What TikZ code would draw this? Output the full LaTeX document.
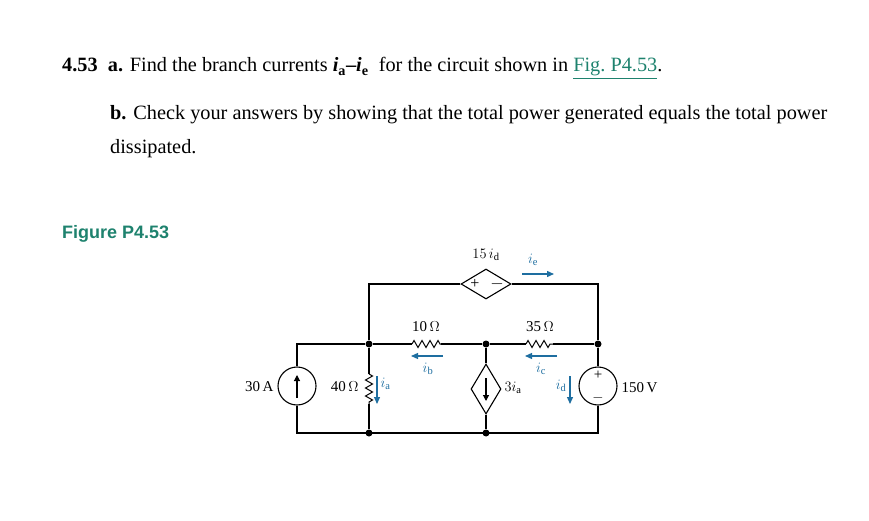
\documentclass[tikz,border=0pt]{standalone}
\usepackage{fontspec}
\setmainfont{Liberation Serif}
\newfontfamily\hdfont{Liberation Sans}
\usetikzlibrary{shapes.geometric,arrows.meta,decorations.pathmorphing}
\definecolor{teal1}{RGB}{30,130,110}
\definecolor{cblue}{RGB}{30,110,160}
\tikzset{
  wire/.style={line width=1.1pt},
  dot/.style={circle,fill,inner sep=0pt,minimum size=7pt},
  src/.style={circle,draw,line width=1.1pt,minimum size=38pt,inner sep=0pt,fill=white},
  dsrc/.style={diamond,draw,line width=1.1pt,inner sep=0pt,fill=white},
  res/.style={line width=1pt,decorate,decoration={zigzag,segment length=8pt,amplitude=3.5pt}},
  carrow/.style={cblue,line width=1.3pt,-{Triangle[length=7pt,width=6pt]}},
  clab/.style={cblue,font=\fontsize{15}{15}\selectfont\itshape},
  lab/.style={font=\fontsize{15}{15}\selectfont},
  txt/.style={anchor=base west,inner sep=0pt,font=\fontsize{20.3}{22}\selectfont}
}
\begin{document}
\begin{tikzpicture}[x=1pt,y=-1pt]
\useasboundingbox (0,0) rectangle (869,521);
\node[txt] (t1) at (62,72) {\textbf{4.53\ \ a.} Find the branch currents \textbf{\textit{i}\textsubscript{a}--\textit{i}\textsubscript{e}}\ \ for the circuit shown in {\color{teal1}\underline{Fig.~P4.53}}.};
\node[txt] (t2) at (110,120) {\textbf{b.} Check your answers by showing that the total power generated equals the total power};
\node[txt] (t3) at (110,154) {dissipated.};
\node[anchor=base west,inner sep=0pt,font=\hdfont\bfseries\fontsize{18}{18}\selectfont,teal1] (fig) at (62,238) {Figure P4.53};
% nodes
\coordinate (TL) at (369,284); \coordinate (TR) at (598,284);
\coordinate (L1) at (297,344); \coordinate (L2) at (297,433);
\node[dot] (n1) at (369,344) {}; \node[dot] (n2) at (486,344) {}; \node[dot] (n3) at (598,344) {};
\node[dot] (b1) at (369,433) {}; \node[dot] (b2) at (486,433) {};
\coordinate (b3) at (598,433);
\node[dsrc,minimum width=50pt,minimum height=30pt] (vd) at (486,284) {};
\node[font=\fontsize{16}{16}\selectfont] (vdp) at (475,284) {+};
\node[font=\fontsize{16}{16}\selectfont] (vdm) at (497,284) {$-$};
\node[src] (s30) at (297,386) {};
\node[dsrc,minimum width=30pt,minimum height=50pt] (cs) at (486,389) {};
\node[src] (s150) at (598,386) {};
\node[font=\fontsize{15}{15}\selectfont] (pp) at (598,375) {+};
\node[font=\fontsize{15}{15}\selectfont] (mm) at (598,398) {$-$};
\coordinate (r40a) at (369,374); \coordinate (r40b) at (369,404);
\coordinate (r10a) at (412,344); \coordinate (r10b) at (441,344);
\coordinate (r35a) at (526,344); \coordinate (r35b) at (553,344);
% wires
\draw[wire] (vd.west) -- (TL) -- (n1) -- (r40a);
\draw[wire] (r40b) -- (b1);
\draw[wire] (vd.east) -- (TR) -- (n3) -- (s150.north);
\draw[wire] (s150.south) -- (b3) -- (L2) -- (s30.south);
\draw[wire] (s30.north) -- (L1) -- (n1) -- (r10a);
\draw[wire] (r10b) -- (n2) -- (r35a);
\draw[wire] (r35b) -- (n3);
\draw[wire] (n2) -- (cs.north); \draw[wire] (cs.south) -- (b2);
\draw[res] (r40a) -- (r40b);
\draw[res] (r10a) -- (r10b);
\draw[res] (r35a) -- (r35b);
\draw[line width=1.1pt,-{Triangle[length=6pt,width=6pt]}] (297,398) -- (297,375);
\draw[line width=1.1pt,-{Triangle[length=6pt,width=6pt]}] (486,378) -- (486,401);
% labels
\node[lab,anchor=east] (l30) at (277,387) {30\,A};
\node[lab,anchor=east] (l40) at (362,387) {40\,$\Omega$};
\node[lab] (l10) at (426,327) {10\,$\Omega$};
\node[lab] (l35) at (540,327) {35\,$\Omega$};
\node[lab,anchor=west] (l3) at (501,388) {$3i_{\mathrm a}$};
\node[lab,anchor=west] (l150) at (618,388) {150\,V};
\node[lab] (l15) at (486,255) {$15\,i_{\mathrm d}$};
% current arrows
\coordinate (ia1) at (377,376); \coordinate (ia2) at (377,404);
\draw[carrow] (ia1) -- (ia2);
\node[clab,anchor=west] (ial) at (377,384) {$i_{\mathrm a}$};
\coordinate (ib1) at (443,356); \coordinate (ib2) at (411,356);
\draw[carrow] (ib1) -- (ib2);
\node[clab] (ibl) at (428,369) {$i_{\mathrm b}$};
\coordinate (ic1) at (557,356); \coordinate (ic2) at (525,356);
\draw[carrow] (ic1) -- (ic2);
\node[clab] (icl) at (541,369) {$i_{\mathrm c}$};
\coordinate (id1) at (570,376); \coordinate (id2) at (570,404);
\draw[carrow] (id1) -- (id2);
\node[clab,anchor=east] (idl) at (570,386) {$i_{\mathrm d}$};
\coordinate (ie1) at (522,274); \coordinate (ie2) at (554,274);
\draw[carrow] (ie1) -- (ie2);
\node[clab] (iel) at (533,260) {$i_{\mathrm e}$};
\end{tikzpicture}
\end{document}
